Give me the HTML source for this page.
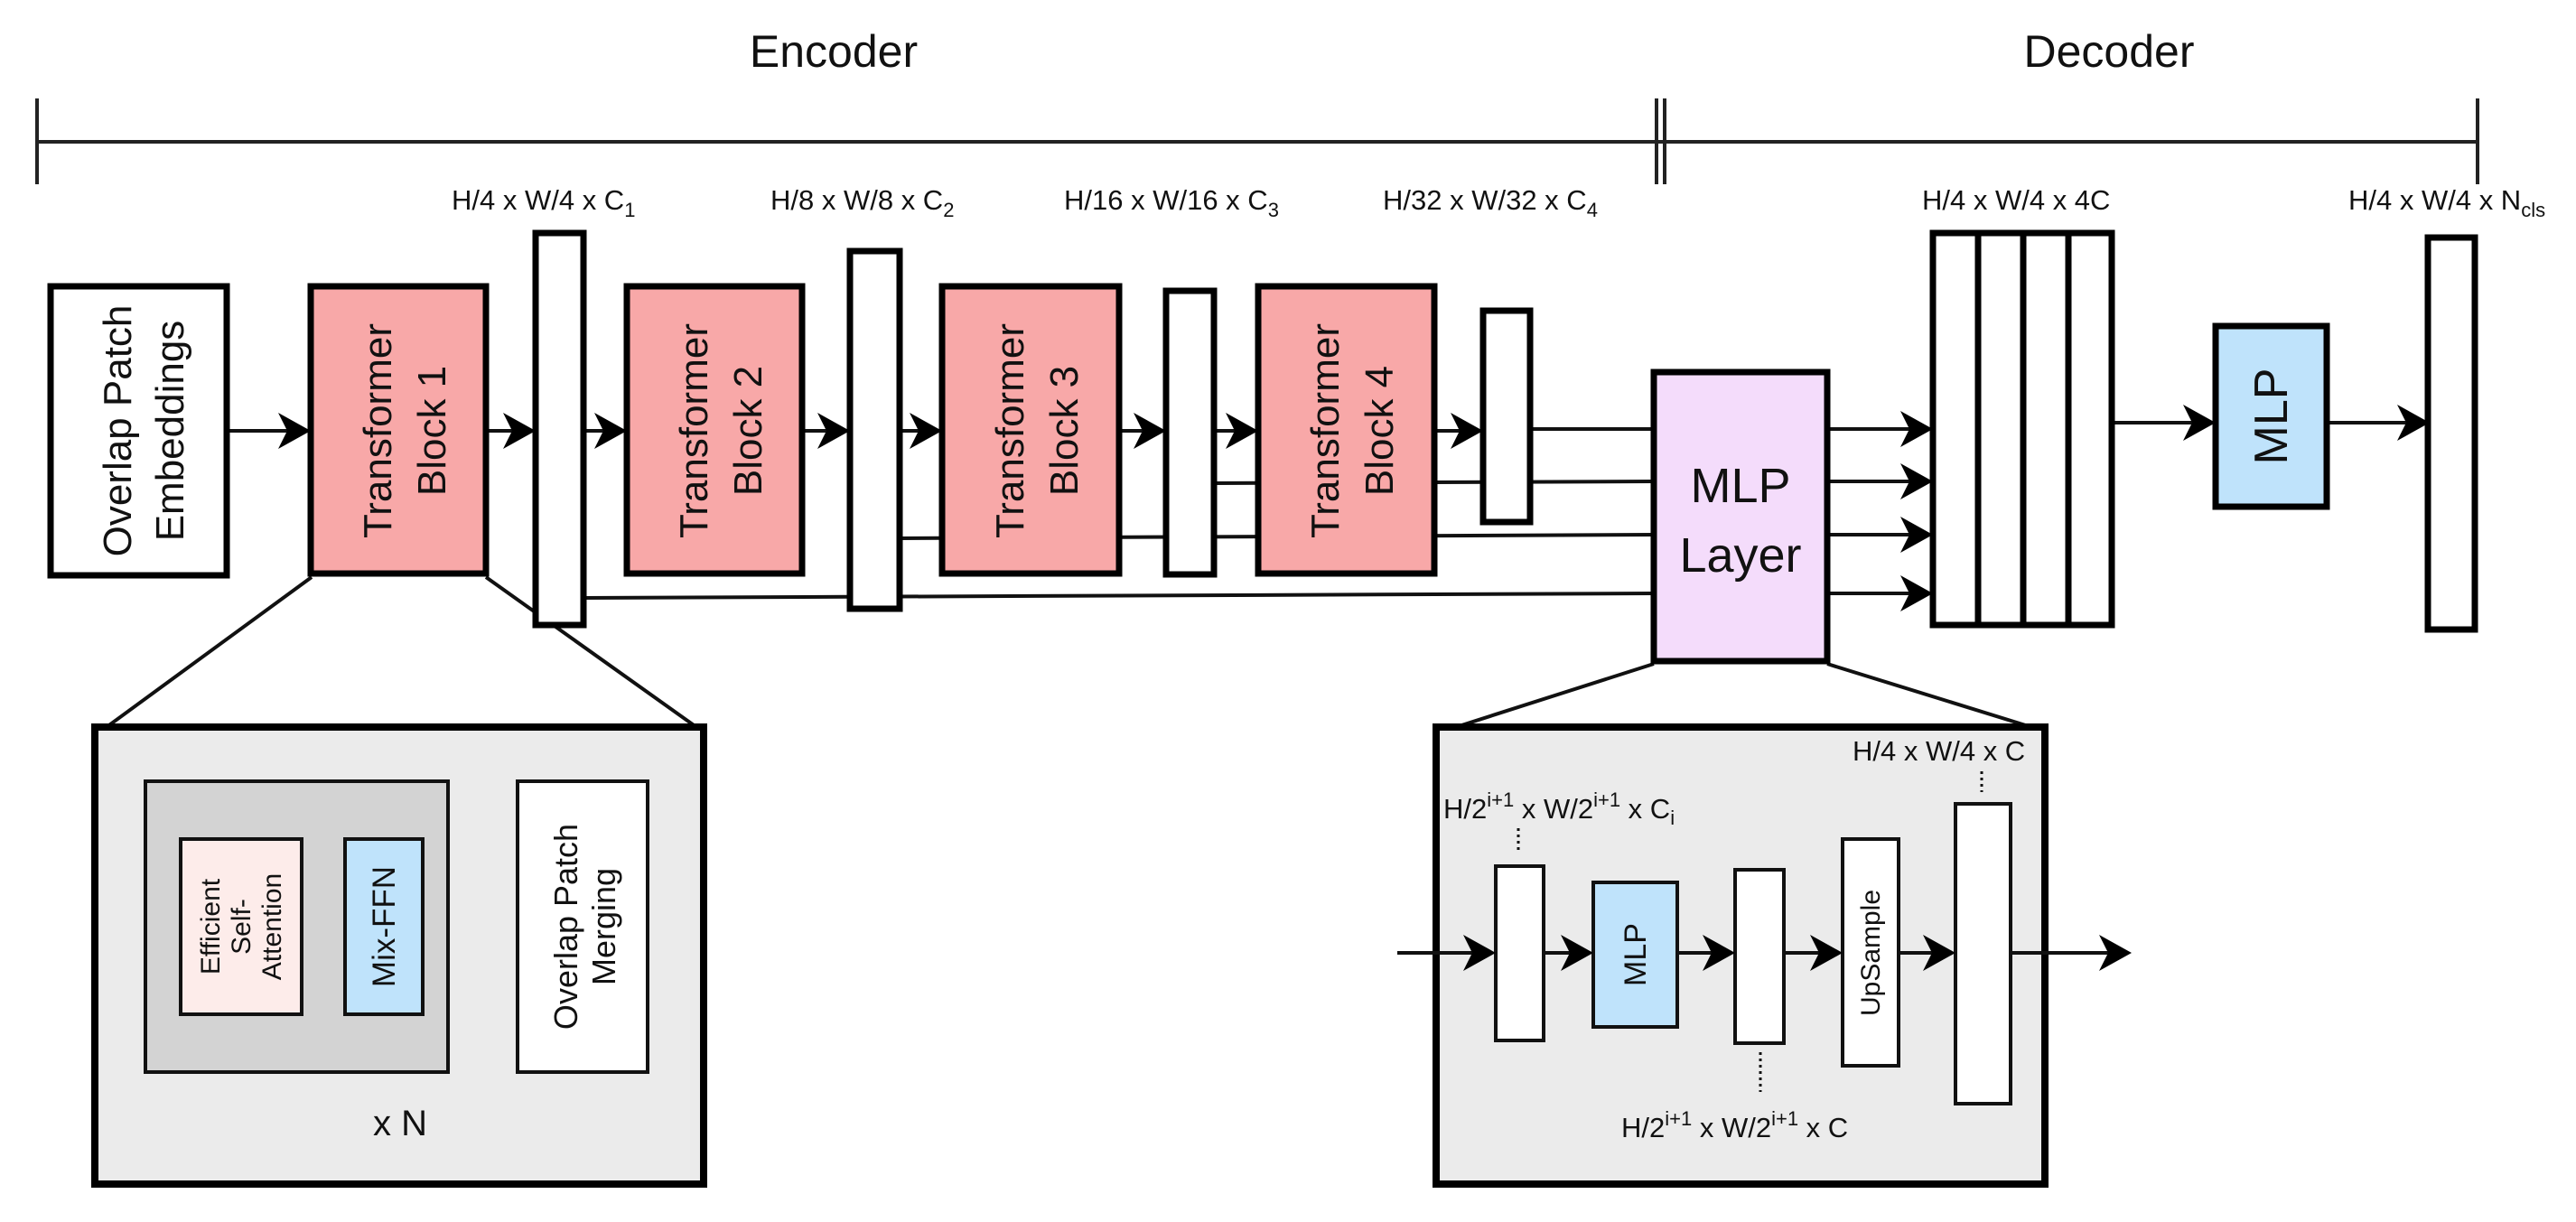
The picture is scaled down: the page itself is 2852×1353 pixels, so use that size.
<!DOCTYPE html>
<html><head><meta charset="utf-8"><style>
html,body{margin:0;padding:0;background:#fff;}
svg{display:block;font-family:"Liberation Sans",Arial,sans-serif;}
</style></head><body>
<svg width="2852" height="1353" viewBox="0 0 2852 1353" xmlns="http://www.w3.org/2000/svg">
<defs>
<path id="ah" d="M0,0 L-36,-20 L-26,0 L-36,20Z" fill="#000"/>
</defs>
<g stroke="#222" stroke-width="4" fill="none">
<line x1="41" y1="157" x2="2743" y2="157"/>
<line x1="41" y1="109" x2="41" y2="204"/>
<line x1="1834" y1="109" x2="1834" y2="204"/>
<line x1="1843" y1="109" x2="1843" y2="204"/>
<line x1="2743" y1="109" x2="2743" y2="204"/>
</g>
<text x="923" y="74" font-size="50" text-anchor="middle" fill="#111">Encoder</text>
<text x="2335" y="74" font-size="50" text-anchor="middle" fill="#111">Decoder</text>
<g font-size="31" fill="#111">
<text x="500" y="232">H/4 x W/4 x C<tspan font-size="22" dy="8">1</tspan></text>
<text x="853" y="232">H/8 x W/8 x C<tspan font-size="22" dy="8">2</tspan></text>
<text x="1178" y="232">H/16 x W/16 x C<tspan font-size="22" dy="8">3</tspan></text>
<text x="1531" y="232">H/32 x W/32 x C<tspan font-size="22" dy="8">4</tspan></text>
<text x="2128" y="232">H/4 x W/4 x 4C</text>
<text x="2600" y="232">H/4 x W/4 x N<tspan font-size="22" dy="8">cls</tspan></text>
</g>
<g stroke="#111" stroke-width="4" fill="none">
<line x1="251" y1="477" x2="320" y2="477"/>
<line x1="538" y1="477" x2="570" y2="477"/>
<line x1="646" y1="477" x2="670" y2="477"/>
<line x1="888" y1="477" x2="918" y2="477"/>
<line x1="996" y1="477" x2="1020" y2="477"/>
<line x1="1239" y1="477" x2="1268" y2="477"/>
<line x1="1344" y1="477" x2="1370" y2="477"/>
<line x1="1588" y1="477" x2="1620" y2="477"/>
<line x1="1694" y1="475" x2="1831" y2="475"/>
<line x1="1344" y1="535" x2="1831" y2="533"/>
<line x1="996" y1="596" x2="1831" y2="592"/>
<line x1="646" y1="662" x2="1831" y2="657"/>
<line x1="2023" y1="475" x2="2120" y2="475"/>
<line x1="2023" y1="533" x2="2120" y2="533"/>
<line x1="2023" y1="592" x2="2120" y2="592"/>
<line x1="2023" y1="657" x2="2120" y2="657"/>
<line x1="2338" y1="468" x2="2430" y2="468"/>
<line x1="2576" y1="468" x2="2670" y2="468"/>
<line x1="345" y1="639" x2="118" y2="805"/>
<line x1="538" y1="639" x2="771" y2="805"/>
<line x1="1831" y1="735" x2="1612" y2="805"/>
<line x1="2023" y1="735" x2="2249" y2="805"/>
</g>
<g stroke="#000" stroke-width="7">
<rect x="56" y="317" width="195" height="320" fill="#fff"/>
<rect x="344" y="317" width="194" height="318" fill="#f8a8a8"/>
<rect x="694" y="317" width="194" height="318" fill="#f8a8a8"/>
<rect x="1043" y="317" width="196" height="318" fill="#f8a8a8"/>
<rect x="1393" y="317" width="195" height="318" fill="#f8a8a8"/>
<rect x="593" y="258" width="53" height="434" fill="#fff"/>
<rect x="941" y="278" width="55" height="396" fill="#fff"/>
<rect x="1291" y="322" width="53" height="314" fill="#fff"/>
<rect x="1642" y="344" width="52" height="234" fill="#fff"/>
<rect x="1831" y="412" width="192" height="320" fill="#f4dcfb"/>
<rect x="2140" y="258" width="198" height="434" fill="#fff"/>
<line x1="2190" y1="258" x2="2190" y2="692"/>
<line x1="2240" y1="258" x2="2240" y2="692"/>
<line x1="2290" y1="258" x2="2290" y2="692"/>
<rect x="2453" y="361" width="123" height="200" fill="#bfe3fb"/>
<rect x="2688" y="263" width="52" height="434" fill="#fff"/>
</g>
<use href="#ah" x="344" y="477"/>
<use href="#ah" x="593" y="477"/>
<use href="#ah" x="694" y="477"/>
<use href="#ah" x="941" y="477"/>
<use href="#ah" x="1043" y="477"/>
<use href="#ah" x="1291" y="477"/>
<use href="#ah" x="1393" y="477"/>
<use href="#ah" x="1642" y="477"/>
<use href="#ah" x="2140" y="475"/>
<use href="#ah" x="2140" y="533"/>
<use href="#ah" x="2140" y="592"/>
<use href="#ah" x="2140" y="657"/>
<use href="#ah" x="2453" y="468"/>
<use href="#ah" x="2690" y="468"/>
<g font-size="44" text-anchor="middle" fill="#111">
<text transform="translate(153,477) rotate(-90)"><tspan x="0" y="-8">Overlap Patch</tspan><tspan x="0" y="50">Embeddings</tspan></text>
<text transform="translate(441,477) rotate(-90)"><tspan x="0" y="-8">Transformer</tspan><tspan x="0" y="52">Block 1</tspan></text>
<text transform="translate(791,477) rotate(-90)"><tspan x="0" y="-8">Transformer</tspan><tspan x="0" y="52">Block 2</tspan></text>
<text transform="translate(1141,477) rotate(-90)"><tspan x="0" y="-8">Transformer</tspan><tspan x="0" y="52">Block 3</tspan></text>
<text transform="translate(1490,477) rotate(-90)"><tspan x="0" y="-8">Transformer</tspan><tspan x="0" y="52">Block 4</tspan></text>
<text x="1927" y="556" font-size="54">MLP</text>
<text x="1927" y="633" font-size="54">Layer</text>
<text transform="translate(2514,461) rotate(-90)" font-size="52" y="18">MLP</text>
</g>
<rect x="105" y="805" width="674" height="506" fill="#ebebeb" stroke="#000" stroke-width="8"/>
<rect x="161" y="865" width="335" height="322" fill="#d3d3d3" stroke="#111" stroke-width="4"/>
<rect x="200" y="929" width="134" height="194" fill="#fdecea" stroke="#111" stroke-width="4"/>
<rect x="382" y="929" width="86" height="194" fill="#bfe3fb" stroke="#111" stroke-width="4"/>
<rect x="573" y="865" width="144" height="322" fill="#fff" stroke="#111" stroke-width="4"/>
<g text-anchor="middle" fill="#111">
<text transform="translate(267,1026) rotate(-90)" font-size="30"><tspan x="0" y="-24">Efficient</tspan><tspan x="0" y="10">Self-</tspan><tspan x="0" y="44">Attention</tspan></text>
<text transform="translate(425,1026) rotate(-90)" font-size="35" y="12">Mix-FFN</text>
<text transform="translate(645,1026) rotate(-90)" font-size="36"><tspan x="0" y="-6">Overlap Patch</tspan><tspan x="0" y="36">Merging</tspan></text>
<text x="443" y="1257" font-size="40">x N</text>
</g>
<rect x="1590" y="805" width="674" height="506" fill="#ebebeb" stroke="#000" stroke-width="8"/>
<g stroke="#111" stroke-width="4" fill="none">
<line x1="1547" y1="1055" x2="1630" y2="1055"/>
<line x1="1709" y1="1055" x2="1740" y2="1055"/>
<line x1="1857" y1="1055" x2="1898" y2="1055"/>
<line x1="1975" y1="1055" x2="2018" y2="1055"/>
<line x1="2102" y1="1055" x2="2142" y2="1055"/>
<line x1="2226" y1="1055" x2="2335" y2="1055"/>
<line x1="1681" y1="917" x2="1681" y2="943" stroke-dasharray="3,4" stroke-width="3"/>
<line x1="2194" y1="854" x2="2194" y2="877" stroke-dasharray="3,4" stroke-width="3"/>
<line x1="1949" y1="1165" x2="1949" y2="1209" stroke-dasharray="3,4" stroke-width="3"/>
</g>
<g stroke="#111" stroke-width="4">
<rect x="1656" y="959" width="53" height="193" fill="#fff"/>
<rect x="1764" y="977" width="93" height="160" fill="#bfe3fb"/>
<rect x="1921" y="963" width="54" height="192" fill="#fff"/>
<rect x="2040" y="929" width="62" height="251" fill="#fff"/>
<rect x="2165" y="890" width="61" height="332" fill="#fff"/>
</g>
<use href="#ah" x="1656" y="1055"/>
<use href="#ah" x="1764" y="1055"/>
<use href="#ah" x="1921" y="1055"/>
<use href="#ah" x="2040" y="1055"/>
<use href="#ah" x="2165" y="1055"/>
<use href="#ah" x="2360" y="1055"/>
<g fill="#111">
<text transform="translate(1810,1057) rotate(-90)" font-size="34" text-anchor="middle" y="12">MLP</text>
<text transform="translate(2071,1055) rotate(-90)" font-size="30" text-anchor="middle" y="10">UpSample</text>
<text x="2051" y="842" font-size="31">H/4 x W/4 x C</text>
<text x="1598" y="906" font-size="31">H/2<tspan font-size="22" dy="-13">i+1</tspan><tspan dy="13"> x W/2</tspan><tspan font-size="22" dy="-13">i+1</tspan><tspan dy="13"> x C</tspan><tspan font-size="22" dy="7">i</tspan></text>
<text x="1795" y="1259" font-size="31">H/2<tspan font-size="22" dy="-13">i+1</tspan><tspan dy="13"> x W/2</tspan><tspan font-size="22" dy="-13">i+1</tspan><tspan dy="13"> x C</tspan></text>
</g>
</svg>
</body></html>
